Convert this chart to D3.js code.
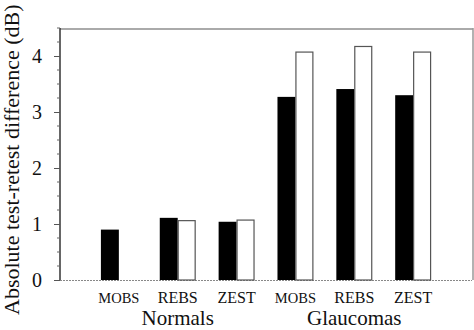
<!DOCTYPE html>
<html><head><meta charset="utf-8">
<script src="https://cdn.jsdelivr.net/npm/d3@7"></script>
<style>body{margin:0;background:#fff}svg{display:block}text{font-family:"Liberation Serif","Times New Roman",serif;fill:#111}</style>
</head><body><svg id="c" width="474" height="330"></svg>
<script>
const categories = ["MOBS","REBS","ZEST","MOBS ","REBS ","ZEST "];
const catLabels = ["MOBS","REBS","ZEST","MOBS","REBS","ZEST"];
const groups = ["Normals","Glaucomas"];
const groupOf = [0,0,0,1,1,1];
const seriesBlack = [0.90,1.11,1.04,3.27,3.41,3.30];
const seriesWhite = [null,1.06,1.07,4.07,4.17,4.07];
const yTicks = [0,1,2,3,4];
const yLabel = "Absolute test-retest difference (dB)";

const svg = d3.select("#c");
const L = 60, R = 472, T = 28, B = 280;
const x = d3.scalePoint().domain(categories).range([L, R]).padding(1);
const y = d3.scaleLinear().domain([0, 4.5]).range([B, T]);
const bw = x.step() * 0.305;

// frame top and right
svg.append("line").attr("x1", L).attr("x2", R+1).attr("y1", T+1).attr("y2", T+1)
  .attr("stroke", "#aaa").attr("stroke-width", 2);
svg.append("line").attr("x1", R+1).attr("x2", R+1).attr("y1", T).attr("y2", B)
  .attr("stroke", "#999").attr("stroke-width", 1.5);
// baseline
svg.append("line").attr("x1", L).attr("x2", R).attr("y1", B+0.5).attr("y2", B+0.5)
  .attr("stroke", "#888").attr("stroke-width", 1).attr("stroke-dasharray", "2,1");

// bars
svg.append("g").selectAll("rect").data(categories).join("rect")
  .attr("x", d => x(d) - bw).attr("width", bw)
  .attr("y", (d,i) => y(seriesBlack[i])).attr("height", (d,i) => B - y(seriesBlack[i]))
  .attr("fill", "#000");
svg.append("g").selectAll("rect").data(categories.filter((d,i) => seriesWhite[i] != null)).join("rect")
  .attr("x", d => x(d) + 0.5).attr("width", bw - 1)
  .attr("y", d => y(seriesWhite[categories.indexOf(d)]))
  .attr("height", d => B - y(seriesWhite[categories.indexOf(d)]))
  .attr("fill", "#fff").attr("stroke", "#555").attr("stroke-width", 1.2);

// y axis
const ya = svg.append("g").attr("transform", `translate(${L},0)`)
  .call(d3.axisLeft(y).tickValues(yTicks).tickSize(6).tickFormat(d3.format("d")));
ya.select(".domain").attr("stroke", "#333").attr("stroke-width", 1.5).attr("d", `M0,${B}V${T}`);
ya.selectAll(".tick line").attr("stroke", "#555");
ya.selectAll(".tick text").attr("x", -18).style("font-family", '"Liberation Serif",serif')
  .style("font-size", "20px").attr("fill", "#111");
const minor = d3.range(0, 4.51, 0.25).filter(v => Math.abs(v - Math.round(v)) > 0.01);
svg.append("g").selectAll("line").data(minor).join("line")
  .attr("x1", L - 3).attr("x2", L).attr("y1", d => y(d)).attr("y2", d => y(d))
  .attr("stroke", "#666");

// category labels
svg.append("g").selectAll("text").data(categories).join("text")
  .attr("x", d => x(d)).attr("y", 303).attr("text-anchor", "middle")
  .attr("font-size", (d,i) => catLabels[i] === "MOBS" ? 14.5 : 16)
  .style("font-size", (d,i) => (catLabels[i] === "MOBS" ? 14.5 : 16) + "px")
  .text((d,i) => catLabels[i]);
// group labels
svg.append("g").selectAll("text").data(groups).join("text")
  .attr("x", (g,gi) => d3.mean(categories.filter((c,i) => groupOf[i] === gi), c => x(c)))
  .attr("y", 325).attr("text-anchor", "middle").style("font-size", "21px").text(d => d);

// y label
svg.append("text").attr("transform", "translate(19,315) rotate(-90)")
  .attr("text-anchor", "start").style("font-size", "22px").text(yLabel);
</script></body></html>
